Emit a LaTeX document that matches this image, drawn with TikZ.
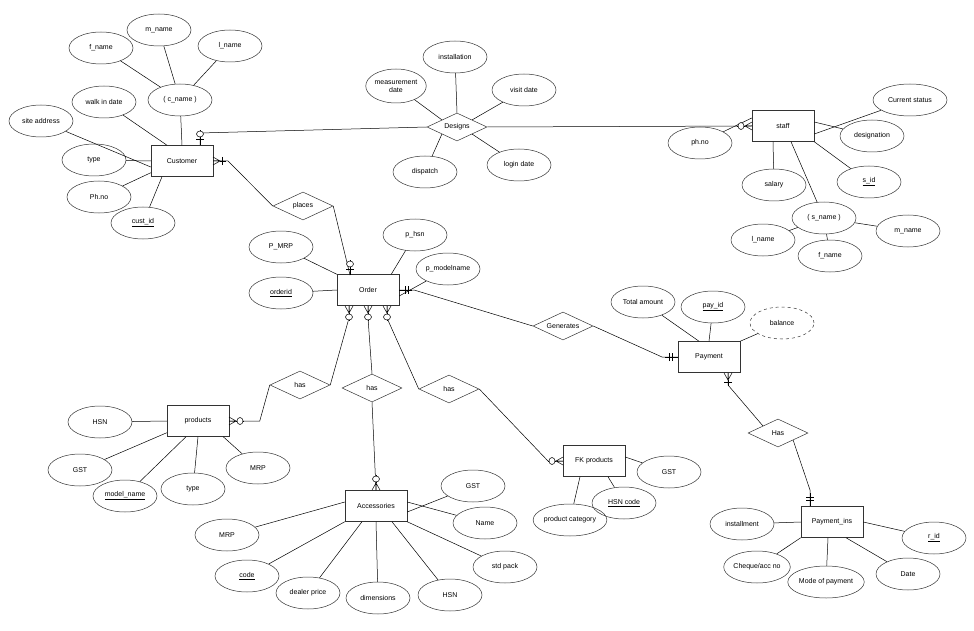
\documentclass[tikz,border=0pt]{standalone}
\usepackage{fontspec}
\setmainfont{Liberation Sans}
\usetikzlibrary{shapes.geometric}
\begin{document}
\begin{tikzpicture}[x=1pt,y=-1pt,font=\fontsize{7}{8}\selectfont,
  ln/.style={draw=black!80,line width=0.5pt},
  ent/.style={ln,rectangle,minimum width=62pt,minimum height=31pt,inner sep=0},
  att/.style={ln,ellipse,minimum width=64pt,minimum height=32pt,inner sep=0,align=center},
  rel/.style={ln,diamond,minimum width=60pt,minimum height=28pt,inner sep=0,aspect=2},
  every path/.style={line width=0.5pt},every draw/.style={draw=black!80}]
\useasboundingbox (0,0) rectangle (974,631);
\newcommand{\crowf}{\draw (0,-4)--(7,0)--(0,4) (0,0)--(7,0);}
\newcommand{\ermark}[4]{\begin{scope}[shift={(#1,#2)},rotate=#3]#4\end{scope}}
\newcommand{\zone}{\draw (0,0)--(15,0) (6,-4)--(6,4); \draw[fill=white] (11,0) ellipse (3 and 3.5);}
\newcommand{\zmany}{\crowf\draw (7,0)--(15,0); \draw[fill=white] (11,0) ellipse (3 and 3.5);}
\newcommand{\omany}{\crowf\draw (7,0)--(13,0) (9,-4)--(9,4);}
\newcommand{\oone}{\draw (0,0)--(13,0) (6,-4)--(6,4) (9,-4)--(9,4);}
% entities
\node[ent] (cust) at (182,161) {Customer};
\node[ent] (staff) at (783,126) {staff};
\node[ent] (order) at (368,290) {Order};
\node[ent] (pay) at (709,357) {Payment};
\node[ent] (prod) at (198,421) {products};
\node[ent] (acc) at (376,506) {Accessories};
\node[ent] (fk) at (594,461) {FK products};
\node[ent] (pins) at (832,522) {Payment\_ins};
% relationships
\node[rel] (des) at (457,127) {Designs};
\node[rel] (pl) at (303,206) {places};
\node[rel] (gen) at (563,326) {Generates};
\node[rel] (has1) at (300,385) {has};
\node[rel] (has2) at (372,388) {has};
\node[rel] (has3) at (449,389) {has};
\node[rel] (has4) at (778,433) {Has};
% customer attributes
\node[att] (cfn) at (101,48) {f\_name};
\node[att] (cmn) at (159,30) {m\_name};
\node[att] (cln) at (230,46) {l\_name};
\node[att] (ccn) at (180,100) {( c\_name )};
\node[att] (cwd) at (104,102) {walk in date};
\node[att] (csa) at (41,121) {site address};
\node[att] (cty) at (94,160) {type};
\node[att] (cph) at (99,197) {Ph.no};
\node[att] (cid) at (143,223) {\underline{cust\_id}};
\foreach \a in {cfn,cmn,cln} \draw (\a) -- (ccn);
\draw (ccn) -- (cust.north);
\draw (cwd) -- ([xshift=-15pt]cust.north);
\draw (csa) -- ([yshift=-6pt]cust.west);
\draw (cty) -- (cust.west);
\draw (cph) -- ([yshift=4pt]cust.south west);
\draw (cid) -- ([xshift=-20pt]cust.south);
% design attributes
\node[att,minimum width=60pt,minimum height=34pt] (dmd) at (396,86) {measurement\\date};
\node[att] (din) at (455,57) {installation};
\node[att] (dvd) at (524,90) {visit date};
\node[att] (ddi) at (425,172) {dispatch};
\node[att] (dld) at (519,165) {login date};
\draw (dmd) -- (des.north west);
\draw (din) -- (des.north);
\draw (dvd) -- (des.north east);
\draw (ddi) -- (des.south west);
\draw (dld) -- (des.south east);
% staff attributes
\node[att,minimum width=74pt] (scs) at (910,100) {Current status};
\node[att] (sde) at (872,136) {designation};
\node[att] (sph) at (700,143) {ph.no};
\node[att] (ssa) at (774,185) {salary};
\node[att] (sid) at (869,182) {\underline{s\_id}};
\node[att] (ssn) at (824,218) {( s\_name )};
\node[att] (sln) at (763,240) {l\_name};
\node[att] (sfn) at (830,256) {f\_name};
\node[att] (smn) at (908,231) {m\_name};
\draw (scs) -- ([yshift=-8pt]staff.east);
\draw (sde) -- ([yshift=4pt]staff.east);
\draw (sph) -- ([yshift=8pt]staff.west);
\draw (ssa) -- ([xshift=-10pt]staff.south);
\draw (sid) -- (staff.south east);
\draw (ssn) -- ([xshift=8pt]staff.south);
\foreach \a in {sln,sfn,smn} \draw (\a) -- (ssn);
% order attributes
\node[att] (omrp) at (281,247) {P\_MRP};
\node[att] (ohsn) at (415,235) {p\_hsn};
\node[att] (omod) at (448,269) {p\_modelname};
\node[att] (oid) at (281,293) {\underline{orderid}};
\draw (omrp) -- (order.north west);
\draw (ohsn) -- ([xshift=-8pt]order.north east);
\draw (omod) -- ([yshift=-6pt]order.east);
\draw (oid) -- (order.west);
% payment attributes
\node[att] (pta) at (643,302) {Total amount};
\node[att] (pid) at (713,307) {\underline{pay\_id}};
\node[att,dashed] (pbal) at (782,323) {balance};
\draw (pta) -- ([xshift=-10pt]pay.north);
\draw (pid) -- (pay.north);
\draw (pbal) -- (pay.north east);
% products attributes
\node[att] (phsn) at (100,422) {HSN};
\node[att] (pgst) at (80,470) {GST};
\node[att] (pmn) at (125,496) {\underline{model\_name}};
\node[att] (pty) at (193,489) {type};
\node[att] (pmrp) at (258,468) {MRP};
\draw (phsn) -- (prod.west);
\draw (pgst) -- ([yshift=4pt]prod.south west);
\draw (pmn) -- ([xshift=-12pt]prod.south);
\draw (pty) -- (prod.south);
\draw (pmrp) -- ([xshift=-6pt]prod.south east);
% accessories attributes
\node[att] (agst) at (473,486) {GST};
\node[att] (anm) at (485,523) {Name};
\node[att] (asp) at (505,567) {std pack};
\node[att] (ahsn) at (450,595) {HSN};
\node[att] (adim) at (378,598) {dimensions};
\node[att] (adp) at (308,593) {dealer price};
\node[att] (acode) at (247,576) {\underline{code}};
\node[att] (amrp) at (227,535) {MRP};
\draw (agst) -- ([yshift=-6pt]acc.east);
\draw (anm) -- ([yshift=4pt]acc.east);
\draw (asp) -- (acc.south east);
\draw (ahsn) -- ([xshift=16pt]acc.south);
\draw (adim) -- (acc.south);
\draw (adp) -- ([xshift=-14pt]acc.south);
\draw (acode) -- (acc.south west);
\draw (amrp) -- ([yshift=4pt]acc.west);
% fk attributes
\node[att] (fgst) at (669,472) {GST};
\node[att] (fhsn) at (624,503) {\underline{HSN code}};
\node[att,minimum width=66pt] (fpc) at (570,520) {product category};
\draw (fgst) -- ([yshift=4pt]fk.east);
\draw (fhsn) -- ([xshift=14pt]fk.south);
\draw (fpc) -- ([xshift=-14pt]fk.south);
% payment_ins attributes
\node[att] (iin) at (742,524) {installment};
\node[att] (irid) at (934,538) {\underline{r\_id}};
\node[att] (ich) at (757,567) {Cheque/acc no};
\node[att,minimum width=66pt] (imp) at (826,582) {Mode of payment};
\node[att] (idt) at (908,574) {Date};
\draw (iin) -- (pins.west);
\draw (irid) -- (pins.east);
\draw (ich) -- (pins.south west);
\draw (imp) -- ([xshift=-4pt]pins.south);
\draw (idt) -- ([xshift=14pt]pins.south);
% relationship connectors
\coordinate (cA) at (200,145);
\coordinate (cB) at (213,161);
\coordinate (oA) at (350,275);
\coordinate (oB) at (399,290);
\coordinate (o1) at (349,306);
\coordinate (o2) at (368,306);
\coordinate (o3) at (387,306);
\coordinate (pA) at (678,357);
\coordinate (pB) at (728,373);
\coordinate (iA) at (810,506);
\draw (cA) -- (200,133) -- (des.west);
\draw (des.east) -- (staff.west);
\draw (cB) -- ++(15,0) -- (pl.west);
\draw (pl.east) -- (oA);
\draw (oB) -- ++(15,0) -- (gen.west);
\draw (gen.east) -- (662,357) -- (pA);
\draw (o1) -- ++(0,12) -- (has1.east);
\draw (has1.west) -- ++(-10,36) -- (prod.east);
\draw (o2) -- ++(0,12) -- (has2.north);
\draw (has2.south) -- (acc.north);
\draw (o3) -- ++(0,12) -- (has3.west);
\draw (has3.east) -- (548,461) -- (fk.west);
\draw (pB) -- ++(0,12) -- (has4.north west);
\draw (has4.south east) -- (810,490) -- (iA);
% cardinality marks
\ermark{200}{145}{90}{\zone}
\ermark{752}{126}{180}{\zmany}
\ermark{213}{161}{0}{\omany}
\ermark{350}{275}{90}{\zone}
\ermark{399}{290}{0}{\oone}
\ermark{678}{357}{180}{\oone}
\ermark{349}{306}{-90}{\zmany}
\ermark{368}{306}{-90}{\zmany}
\ermark{387}{306}{-90}{\zmany}
\ermark{229}{421}{0}{\zmany}
\ermark{376}{490}{90}{\zmany}
\ermark{563}{461}{180}{\zmany}
\ermark{728}{373}{-90}{\omany}
\ermark{810}{506}{90}{\oone}
\end{tikzpicture}
\end{document}
